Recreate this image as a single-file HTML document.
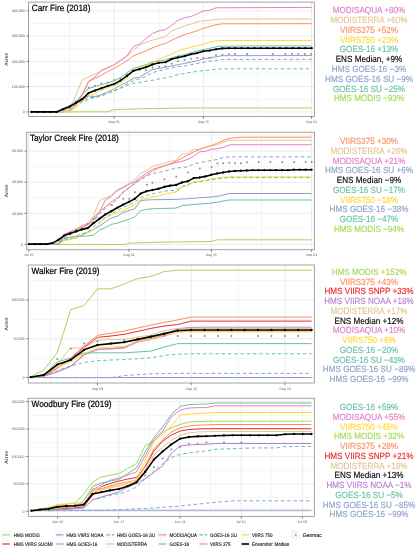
<!DOCTYPE html><html><head><meta charset="utf-8"><style>html,body{margin:0;padding:0;background:#fff;overflow:hidden}svg{display:block;will-change:transform}text{font-family:"Liberation Sans", sans-serif;text-rendering:geometricPrecision}</style></head><body>
<svg width="416" height="550" viewBox="0 0 416 550">
<rect width="416" height="550" fill="#fff"/>
<line x1="28.5" x2="314.4" y1="99.26" y2="99.26" stroke="#EFEFEF" stroke-width="0.6"/><line x1="28.5" x2="314.4" y1="73.99" y2="73.99" stroke="#EFEFEF" stroke-width="0.6"/><line x1="28.5" x2="314.4" y1="48.71" y2="48.71" stroke="#EFEFEF" stroke-width="0.6"/><line x1="28.5" x2="314.4" y1="23.44" y2="23.44" stroke="#EFEFEF" stroke-width="0.6"/><line x1="28.5" x2="314.4" y1="111.90" y2="111.90" stroke="#E6E6E6" stroke-width="0.8"/><line x1="28.5" x2="314.4" y1="86.62" y2="86.62" stroke="#E6E6E6" stroke-width="0.8"/><line x1="28.5" x2="314.4" y1="61.35" y2="61.35" stroke="#E6E6E6" stroke-width="0.8"/><line x1="28.5" x2="314.4" y1="36.08" y2="36.08" stroke="#E6E6E6" stroke-width="0.8"/><line x1="28.5" x2="314.4" y1="10.80" y2="10.80" stroke="#E6E6E6" stroke-width="0.8"/><line x1="69.5" x2="69.5" y1="2.1" y2="116.5" stroke="#EFEFEF" stroke-width="0.6"/><line x1="158.8" x2="158.8" y1="2.1" y2="116.5" stroke="#EFEFEF" stroke-width="0.6"/><line x1="257.5" x2="257.5" y1="2.1" y2="116.5" stroke="#EFEFEF" stroke-width="0.6"/><line x1="114.1" x2="114.1" y1="2.1" y2="116.5" stroke="#E6E6E6" stroke-width="0.8"/><line x1="203.4" x2="203.4" y1="2.1" y2="116.5" stroke="#E6E6E6" stroke-width="0.8"/><line x1="311.5" x2="311.5" y1="2.1" y2="116.5" stroke="#E6E6E6" stroke-width="0.8"/>
<g transform="translate(0,0.3)"><path d="M31.25,111.70 L108.00,111.50 L113.50,109.40 L140.00,108.50 L192.00,107.60 L311.75,107.60" fill="none" stroke="#A6D854" stroke-width="1.0" stroke-linejoin="round" stroke-linecap="butt" opacity="1"/><path d="M31.25,111.60 L56.75,111.60 L63.10,110.00 L69.50,107.50 L75.90,103.50 L80.00,100.00 L88.60,95.60 L95.00,96.25 L101.40,94.40 L107.75,91.25 L114.10,88.75 L120.50,85.00 L126.90,81.90 L133.25,78.10 L139.60,76.90 L146.00,73.10 L152.00,69.40 L159.00,68.10 L165.40,66.90 L171.75,65.60 L178.10,64.40 L184.50,63.10 L190.90,61.90 L197.25,60.30 L203.25,58.75 L209.60,57.50 L216.00,56.50 L222.40,55.40 L311.75,55.25" fill="none" stroke="#8DA0CB" stroke-width="1.0" stroke-linejoin="round" stroke-linecap="butt" opacity="1"/><path d="M31.25,111.60 L56.75,111.60 L63.10,110.50 L69.50,106.50 L73.75,100.00 L82.25,79.40 L88.60,76.60 L95.00,73.70 L101.25,70.60 L107.00,67.80 L114.10,64.60 L120.50,60.60 L126.90,56.00 L133.25,50.00 L139.60,45.00 L146.00,42.00 L152.00,40.00 L159.00,38.10 L165.40,36.25 L171.75,30.60 L178.10,28.10 L184.50,25.60 L190.90,23.75 L197.25,21.50 L203.25,20.60 L209.60,20.00 L216.00,19.00 L222.40,18.75 L311.75,18.75" fill="none" stroke="#E5C494" stroke-width="1.0" stroke-linejoin="round" stroke-linecap="butt" opacity="1"/><path d="M31.25,111.60 L63.10,111.60 L69.50,110.30 L75.90,105.00 L80.00,98.75 L88.60,81.25 L96.25,75.60 L101.25,70.00 L107.75,67.50 L114.10,64.40 L120.50,60.00 L126.90,55.60 L133.25,46.25 L139.60,43.75 L146.00,38.50 L152.60,33.10 L159.00,30.60 L165.40,29.40 L171.75,25.00 L178.00,20.00 L184.50,17.50 L190.90,16.20 L196.90,13.75 L203.25,10.60 L209.60,10.00 L216.00,7.50 L311.75,7.10" fill="none" stroke="#E37FCB" stroke-width="1.0" stroke-linejoin="round" stroke-linecap="butt" opacity="1"/><path d="M31.25,111.60 L56.75,111.60 L63.10,109.50 L69.50,107.00 L75.90,103.00 L80.00,96.25 L88.60,88.10 L95.00,86.25 L101.40,84.40 L107.75,82.50 L114.10,80.60 L120.50,77.20 L126.90,72.50 L133.25,68.10 L139.60,66.25 L146.00,64.40 L152.00,61.90 L159.00,60.60 L165.40,59.40 L171.75,57.50 L178.10,55.60 L184.50,54.40 L190.90,52.50 L197.25,50.60 L203.25,49.40 L209.60,48.10 L216.00,46.50 L222.40,45.80 L311.75,45.60" fill="none" stroke="#66C2A5" stroke-width="1.0" stroke-linejoin="round" stroke-linecap="butt" opacity="1"/><path d="M31.25,111.60 L63.10,111.60 L69.50,110.30 L75.90,105.00 L80.00,98.75 L88.60,81.25 L95.00,78.10 L101.25,75.00 L107.75,71.25 L114.10,68.10 L120.50,64.40 L126.90,60.60 L133.25,55.60 L139.60,53.10 L146.00,50.60 L152.00,47.80 L159.00,45.00 L165.40,43.10 L171.75,40.00 L178.10,36.90 L184.50,34.40 L190.90,32.50 L197.25,30.40 L203.25,28.10 L209.60,26.25 L216.00,24.40 L222.40,23.50 L311.75,23.40" fill="none" stroke="#FC8D62" stroke-width="1.0" stroke-linejoin="round" stroke-linecap="butt" opacity="1"/><path d="M31.25,111.60 L63.10,111.60 L69.50,110.90 L75.90,107.50 L80.00,103.10 L88.60,96.25 L95.00,93.10 L101.40,90.00 L107.75,87.50 L114.10,85.60 L120.50,82.50 L126.90,78.10 L133.25,69.60 L139.60,67.50 L146.00,65.60 L152.40,62.60 L159.00,58.75 L165.40,56.25 L171.75,53.75 L178.10,50.40 L184.50,48.75 L190.90,46.90 L197.25,45.60 L203.25,43.75 L209.60,41.90 L216.00,40.60 L222.40,40.25 L311.75,40.25" fill="none" stroke="#FFD92F" stroke-width="1.0" stroke-linejoin="round" stroke-linecap="butt" opacity="1"/><path d="M31.25,111.60 L56.75,111.60 L63.10,110.30 L69.50,108.00 L75.90,104.50 L80.00,101.00 L88.60,97.00 L95.00,97.30 L101.40,95.60 L107.75,93.00 L114.10,90.60 L120.50,87.50 L126.90,83.75 L133.25,80.50 L139.60,78.50 L146.00,76.20 L152.00,72.50 L159.00,70.60 L165.40,69.00 L171.75,67.50 L178.10,66.25 L184.50,65.60 L190.90,64.40 L197.25,63.10 L203.25,62.00 L209.60,60.90 L216.00,60.00 L222.40,59.10 L311.75,59.00" fill="none" stroke="#8DA0CB" stroke-width="1.0" stroke-linejoin="round" stroke-linecap="butt" stroke-dasharray="3.5,2.75" opacity="1"/><path d="M31.25,111.60 L56.75,111.60 L63.10,110.30 L69.50,108.50 L75.90,105.00 L82.00,101.50 L88.60,99.00 L95.00,97.00 L107.75,93.00 L120.50,88.10 L126.90,85.00 L133.25,83.00 L146.00,81.00 L152.00,80.00 L159.00,78.75 L165.40,77.50 L171.75,76.25 L178.10,74.40 L184.50,73.10 L190.90,71.90 L197.25,71.25 L203.25,70.25 L209.60,69.75 L216.00,69.00 L222.40,68.50 L311.75,68.50" fill="none" stroke="#66C2A5" stroke-width="1.0" stroke-linejoin="round" stroke-linecap="butt" stroke-dasharray="3.5,2.75" opacity="1"/><circle cx="75.90" cy="100.90" r="1.0" fill="#8F8F8F"/><circle cx="88.60" cy="87.80" r="1.0" fill="#8F8F8F"/><circle cx="95.00" cy="85.55" r="1.0" fill="#8F8F8F"/><circle cx="101.40" cy="83.20" r="1.0" fill="#8F8F8F"/><circle cx="107.75" cy="82.20" r="1.0" fill="#8F8F8F"/><circle cx="114.10" cy="79.70" r="1.0" fill="#8F8F8F"/><circle cx="120.50" cy="78.40" r="1.0" fill="#8F8F8F"/><circle cx="126.90" cy="74.30" r="1.0" fill="#8F8F8F"/><circle cx="133.25" cy="70.30" r="1.0" fill="#8F8F8F"/><circle cx="139.60" cy="69.80" r="1.0" fill="#8F8F8F"/><circle cx="146.00" cy="70.05" r="1.0" fill="#8F8F8F"/><circle cx="152.60" cy="67.20" r="1.0" fill="#8F8F8F"/><circle cx="159.00" cy="66.55" r="1.0" fill="#8F8F8F"/><circle cx="165.40" cy="65.90" r="1.0" fill="#8F8F8F"/><circle cx="171.75" cy="63.40" r="1.0" fill="#8F8F8F"/><circle cx="178.10" cy="60.90" r="1.0" fill="#8F8F8F"/><circle cx="184.50" cy="59.70" r="1.0" fill="#8F8F8F"/><circle cx="190.90" cy="58.40" r="1.0" fill="#8F8F8F"/><circle cx="197.25" cy="57.80" r="1.0" fill="#8F8F8F"/><circle cx="203.25" cy="57.80" r="1.0" fill="#8F8F8F"/><circle cx="209.60" cy="57.80" r="1.0" fill="#8F8F8F"/><circle cx="216.00" cy="54.70" r="1.0" fill="#8F8F8F"/><circle cx="222.40" cy="54.70" r="1.0" fill="#8F8F8F"/><circle cx="228.80" cy="54.05" r="1.0" fill="#8F8F8F"/><circle cx="235.00" cy="53.80" r="1.0" fill="#8F8F8F"/><circle cx="247.20" cy="53.70" r="1.0" fill="#8F8F8F"/><circle cx="272.80" cy="53.70" r="1.0" fill="#8F8F8F"/><circle cx="285.40" cy="53.70" r="1.0" fill="#8F8F8F"/><circle cx="292.00" cy="53.70" r="1.0" fill="#8F8F8F"/><circle cx="298.20" cy="53.70" r="1.0" fill="#8F8F8F"/><circle cx="304.80" cy="53.70" r="1.0" fill="#8F8F8F"/><circle cx="311.25" cy="53.70" r="1.0" fill="#8F8F8F"/><path d="M31.25,111.60 L37.62,111.60 L44.00,111.60 L50.38,111.60 L56.75,111.60 L63.10,108.75 L69.50,106.25 L75.90,102.50 L82.25,98.90 L88.60,92.80 L95.00,90.30 L101.40,88.00 L107.75,85.60 L114.10,83.75 L120.50,80.30 L126.90,75.60 L133.25,70.60 L139.60,68.75 L146.00,66.90 L152.40,64.20 L159.00,62.50 L165.40,61.90 L171.75,58.75 L178.10,57.20 L184.50,55.90 L190.90,54.00 L197.25,52.80 L203.25,51.00 L209.60,50.25 L216.00,49.00 L222.40,48.10 L228.80,47.90 L235.25,47.90 L241.62,47.90 L248.00,47.90 L254.38,47.90 L260.75,47.90 L267.12,47.90 L273.50,47.90 L279.88,47.90 L286.25,47.90 L292.62,47.90 L299.00,47.90 L305.38,47.90 L311.75,47.90" fill="none" stroke="#000" stroke-width="1.6" stroke-linejoin="round" stroke-linecap="butt" opacity="1"/><circle cx="31.25" cy="111.60" r="1.15" fill="#000"/><circle cx="37.62" cy="111.60" r="1.15" fill="#000"/><circle cx="44.00" cy="111.60" r="1.15" fill="#000"/><circle cx="50.38" cy="111.60" r="1.15" fill="#000"/><circle cx="56.75" cy="111.60" r="1.15" fill="#000"/><circle cx="63.10" cy="108.75" r="1.15" fill="#000"/><circle cx="69.50" cy="106.25" r="1.15" fill="#000"/><circle cx="75.90" cy="102.50" r="1.15" fill="#000"/><circle cx="82.25" cy="98.90" r="1.15" fill="#000"/><circle cx="88.60" cy="92.80" r="1.15" fill="#000"/><circle cx="95.00" cy="90.30" r="1.15" fill="#000"/><circle cx="101.40" cy="88.00" r="1.15" fill="#000"/><circle cx="107.75" cy="85.60" r="1.15" fill="#000"/><circle cx="114.10" cy="83.75" r="1.15" fill="#000"/><circle cx="120.50" cy="80.30" r="1.15" fill="#000"/><circle cx="126.90" cy="75.60" r="1.15" fill="#000"/><circle cx="133.25" cy="70.60" r="1.15" fill="#000"/><circle cx="139.60" cy="68.75" r="1.15" fill="#000"/><circle cx="146.00" cy="66.90" r="1.15" fill="#000"/><circle cx="152.40" cy="64.20" r="1.15" fill="#000"/><circle cx="159.00" cy="62.50" r="1.15" fill="#000"/><circle cx="165.40" cy="61.90" r="1.15" fill="#000"/><circle cx="171.75" cy="58.75" r="1.15" fill="#000"/><circle cx="178.10" cy="57.20" r="1.15" fill="#000"/><circle cx="184.50" cy="55.90" r="1.15" fill="#000"/><circle cx="190.90" cy="54.00" r="1.15" fill="#000"/><circle cx="197.25" cy="52.80" r="1.15" fill="#000"/><circle cx="203.25" cy="51.00" r="1.15" fill="#000"/><circle cx="209.60" cy="50.25" r="1.15" fill="#000"/><circle cx="216.00" cy="49.00" r="1.15" fill="#000"/><circle cx="222.40" cy="48.10" r="1.15" fill="#000"/><circle cx="228.80" cy="47.90" r="1.15" fill="#000"/><circle cx="235.25" cy="47.90" r="1.15" fill="#000"/><circle cx="241.62" cy="47.90" r="1.15" fill="#000"/><circle cx="248.00" cy="47.90" r="1.15" fill="#000"/><circle cx="254.38" cy="47.90" r="1.15" fill="#000"/><circle cx="260.75" cy="47.90" r="1.15" fill="#000"/><circle cx="267.12" cy="47.90" r="1.15" fill="#000"/><circle cx="273.50" cy="47.90" r="1.15" fill="#000"/><circle cx="279.88" cy="47.90" r="1.15" fill="#000"/><circle cx="286.25" cy="47.90" r="1.15" fill="#000"/><circle cx="292.62" cy="47.90" r="1.15" fill="#000"/><circle cx="299.00" cy="47.90" r="1.15" fill="#000"/><circle cx="305.38" cy="47.90" r="1.15" fill="#000"/><circle cx="311.75" cy="47.90" r="1.15" fill="#000"/></g>
<rect x="28.5" y="2.1" width="285.90" height="114.40" fill="none" stroke="#999" stroke-width="0.9"/>
<line x1="26.3" x2="28.5" y1="111.90" y2="111.90" stroke="#333" stroke-width="0.6"/>
<text transform="translate(24.70,111.90) scale(1,1.0)" y="1.238" font-size="3.6" fill="#555" text-anchor="end">0</text>
<line x1="26.3" x2="28.5" y1="86.62" y2="86.62" stroke="#333" stroke-width="0.6"/>
<text transform="translate(24.70,86.62) scale(1,1.0)" y="1.238" font-size="3.6" fill="#555" text-anchor="end">100,000</text>
<line x1="26.3" x2="28.5" y1="61.35" y2="61.35" stroke="#333" stroke-width="0.6"/>
<text transform="translate(24.70,61.35) scale(1,1.0)" y="1.238" font-size="3.6" fill="#555" text-anchor="end">200,000</text>
<line x1="26.3" x2="28.5" y1="36.08" y2="36.08" stroke="#333" stroke-width="0.6"/>
<text transform="translate(24.70,36.08) scale(1,1.0)" y="1.238" font-size="3.6" fill="#555" text-anchor="end">300,000</text>
<line x1="26.3" x2="28.5" y1="10.80" y2="10.80" stroke="#333" stroke-width="0.6"/>
<text transform="translate(24.70,10.80) scale(1,1.0)" y="1.238" font-size="3.6" fill="#555" text-anchor="end">400,000</text>
<line x1="114.1" x2="114.1" y1="116.5" y2="118.7" stroke="#333" stroke-width="0.6"/>
<text transform="translate(114.10,121.90) scale(1,1.0)" y="1.238" font-size="3.6" fill="#666" text-anchor="middle">Aug 01</text>
<line x1="203.4" x2="203.4" y1="116.5" y2="118.7" stroke="#333" stroke-width="0.6"/>
<text transform="translate(203.40,121.90) scale(1,1.0)" y="1.238" font-size="3.6" fill="#666" text-anchor="middle">Aug 15</text>
<line x1="311.5" x2="311.5" y1="116.5" y2="118.7" stroke="#333" stroke-width="0.6"/>
<text transform="translate(311.50,121.90) scale(1,1.0)" y="1.238" font-size="3.6" fill="#666" text-anchor="middle">Sep 01</text>
<text transform="translate(6.3,59.30) rotate(-90)" y="1.72" font-size="5.0" fill="#222" text-anchor="middle">Acres</text>
<text transform="translate(31.70,7.55) scale(1,1.1)" y="2.838" font-size="8.25" fill="#000" stroke="#000" stroke-width="0.2">Carr Fire (2018)</text>
<text transform="translate(369.00,10.05) scale(1,1.1)" y="2.804" font-size="8.15" fill="#E27ACA" stroke="#E27ACA" stroke-width="0.12" text-anchor="middle">MODISAQUA +80%</text>
<text transform="translate(369.00,19.86) scale(1,1.1)" y="2.804" font-size="8.15" fill="#E5C494" stroke="#E5C494" stroke-width="0.12" text-anchor="middle">MODISTERRA +60%</text>
<text transform="translate(369.00,29.66) scale(1,1.1)" y="2.804" font-size="8.15" fill="#FC8D62" stroke="#FC8D62" stroke-width="0.12" text-anchor="middle">VIIRS375 +52%</text>
<text transform="translate(369.00,39.47) scale(1,1.1)" y="2.804" font-size="8.15" fill="#FFD92F" stroke="#FFD92F" stroke-width="0.12" text-anchor="middle">VIIRS750 +23%</text>
<text transform="translate(369.00,49.27) scale(1,1.1)" y="2.804" font-size="8.15" fill="#66C2A5" stroke="#66C2A5" stroke-width="0.12" text-anchor="middle">GOES-16 +13%</text>
<text transform="translate(369.00,59.08) scale(1,1.1)" y="2.804" font-size="8.15" fill="#000000" stroke="#000000" stroke-width="0.12" text-anchor="middle">ENS Median, +9%</text>
<text transform="translate(369.00,68.88) scale(1,1.1)" y="2.804" font-size="8.15" fill="#8DA0CB" stroke="#8DA0CB" stroke-width="0.12" text-anchor="middle">HMS GOES-16 −3%</text>
<text transform="translate(369.00,78.68) scale(1,1.1)" y="2.804" font-size="8.15" fill="#8DA0CB" stroke="#8DA0CB" stroke-width="0.12" text-anchor="middle">HMS GOES-16 SU −9%</text>
<text transform="translate(369.00,88.49) scale(1,1.1)" y="2.804" font-size="8.15" fill="#66C2A5" stroke="#66C2A5" stroke-width="0.12" text-anchor="middle">GOES-16 SU −25%</text>
<text transform="translate(369.00,98.30) scale(1,1.1)" y="2.804" font-size="8.15" fill="#A6D854" stroke="#A6D854" stroke-width="0.12" text-anchor="middle">HMS MODIS −93%</text>
<line x1="26.7" x2="314.4" y1="228.85" y2="228.85" stroke="#EFEFEF" stroke-width="0.6"/><line x1="26.7" x2="314.4" y1="197.75" y2="197.75" stroke="#EFEFEF" stroke-width="0.6"/><line x1="26.7" x2="314.4" y1="166.65" y2="166.65" stroke="#EFEFEF" stroke-width="0.6"/><line x1="26.7" x2="314.4" y1="135.55" y2="135.55" stroke="#EFEFEF" stroke-width="0.6"/><line x1="26.7" x2="314.4" y1="244.40" y2="244.40" stroke="#E6E6E6" stroke-width="0.8"/><line x1="26.7" x2="314.4" y1="213.30" y2="213.30" stroke="#E6E6E6" stroke-width="0.8"/><line x1="26.7" x2="314.4" y1="182.20" y2="182.20" stroke="#E6E6E6" stroke-width="0.8"/><line x1="26.7" x2="314.4" y1="151.10" y2="151.10" stroke="#E6E6E6" stroke-width="0.8"/><line x1="79" x2="79" y1="132.2" y2="249.7" stroke="#EFEFEF" stroke-width="0.6"/><line x1="170" x2="170" y1="132.2" y2="249.7" stroke="#EFEFEF" stroke-width="0.6"/><line x1="261.5" x2="261.5" y1="132.2" y2="249.7" stroke="#EFEFEF" stroke-width="0.6"/><line x1="28.8" x2="28.8" y1="132.2" y2="249.7" stroke="#E6E6E6" stroke-width="0.8"/><line x1="129.0" x2="129.0" y1="132.2" y2="249.7" stroke="#E6E6E6" stroke-width="0.8"/><line x1="211.4" x2="211.4" y1="132.2" y2="249.7" stroke="#E6E6E6" stroke-width="0.8"/><line x1="311.6" x2="311.6" y1="132.2" y2="249.7" stroke="#E6E6E6" stroke-width="0.8"/>
<path d="M28.80,244.40 L123.60,244.50 L129.60,243.20 L157.20,242.20 L211.00,241.50 L217.80,239.80 L311.52,239.80" fill="none" stroke="#A6D854" stroke-width="1.0" stroke-linejoin="round" stroke-linecap="butt" opacity="1"/><path d="M28.80,244.10 L58.25,244.10 L64.14,240.00 L75.92,238.00 L87.70,232.50 L99.48,226.25 L105.37,221.90 L111.26,218.10 L117.15,216.25 L123.04,212.50 L128.93,210.60 L134.82,208.75 L140.71,200.60 L146.60,200.00 L152.49,199.75 L176.05,199.40 L187.83,198.75 L199.61,197.75 L211.39,197.00 L217.28,196.25 L223.17,195.00 L229.06,193.50 L311.52,193.50" fill="none" stroke="#8DA0CB" stroke-width="1.0" stroke-linejoin="round" stroke-linecap="butt" opacity="1"/><path d="M28.80,244.10 L58.25,244.10 L64.14,236.00 L75.92,231.00 L87.70,225.00 L93.59,215.60 L99.48,200.60 L105.37,198.10 L111.26,195.25 L117.15,190.00 L123.04,186.75 L128.93,183.10 L134.82,179.40 L140.71,173.30 L146.60,170.60 L152.49,166.25 L158.38,165.00 L164.27,163.10 L170.16,161.25 L176.05,160.60 L181.94,153.75 L187.83,153.75 L193.72,149.40 L199.61,149.40 L205.50,146.90 L211.39,145.50 L217.28,144.80 L223.17,142.50 L229.06,140.25 L311.52,140.25" fill="none" stroke="#E5C494" stroke-width="1.0" stroke-linejoin="round" stroke-linecap="butt" opacity="1"/><path d="M28.80,244.10 L58.25,244.10 L64.14,234.40 L75.92,229.40 L87.70,225.00 L93.59,220.00 L99.48,212.00 L105.37,200.00 L111.26,196.50 L117.15,190.50 L123.04,188.00 L128.93,184.50 L134.82,181.90 L140.71,176.90 L146.60,173.10 L152.49,169.40 L158.38,167.50 L164.27,165.60 L170.16,164.40 L176.05,162.50 L181.94,161.25 L187.83,159.40 L193.72,156.25 L199.61,151.90 L205.50,151.25 L211.39,149.40 L217.28,148.75 L223.17,147.50 L229.06,145.00 L234.95,144.75 L311.52,144.75" fill="none" stroke="#E37FCB" stroke-width="1.0" stroke-linejoin="round" stroke-linecap="butt" opacity="1"/><path d="M28.80,244.10 L58.25,244.10 L64.14,238.00 L75.92,236.50 L87.70,236.00 L93.59,235.00 L99.48,230.00 L105.37,227.50 L111.26,224.40 L117.15,223.10 L123.04,221.25 L128.93,219.40 L134.82,216.90 L140.71,210.60 L146.60,209.40 L152.49,208.75 L176.05,208.10 L181.94,205.60 L193.72,204.40 L211.39,203.10 L217.28,202.25 L223.17,201.00 L229.06,200.00 L311.52,200.00" fill="none" stroke="#66C2A5" stroke-width="1.0" stroke-linejoin="round" stroke-linecap="butt" opacity="1"/><path d="M28.80,244.10 L58.25,244.10 L64.14,234.40 L75.92,229.40 L81.81,225.60 L87.70,223.75 L93.59,217.50 L99.48,211.90 L105.37,206.90 L111.26,201.90 L117.15,198.10 L123.04,192.50 L128.93,188.00 L134.82,183.10 L140.71,178.75 L146.60,175.00 L152.49,171.25 L158.38,168.10 L164.27,166.00 L170.16,163.75 L176.05,161.25 L181.94,158.10 L187.83,155.00 L193.72,151.90 L199.61,149.40 L205.50,147.50 L211.39,145.60 L217.28,143.10 L223.17,140.60 L229.06,138.50 L234.95,137.75 L240.84,137.20 L311.52,137.20" fill="none" stroke="#FC8D62" stroke-width="1.0" stroke-linejoin="round" stroke-linecap="butt" opacity="1"/><path d="M28.80,244.10 L52.36,244.10 L58.25,243.00 L64.14,240.60 L70.03,239.40 L75.92,238.10 L81.81,234.40 L87.70,232.00 L93.59,230.00 L99.48,224.00 L105.37,218.10 L111.26,215.00 L117.15,212.50 L123.04,210.60 L128.93,207.50 L134.82,204.40 L140.71,199.40 L146.60,198.10 L152.49,196.90 L158.38,196.00 L164.27,194.20 L170.16,193.10 L176.05,191.90 L181.94,187.50 L187.83,185.60 L193.72,181.90 L199.61,181.25 L205.50,180.60 L211.39,178.75 L217.28,178.10 L223.17,177.50 L229.06,176.90 L311.52,176.90" fill="none" stroke="#FFD92F" stroke-width="1.0" stroke-linejoin="round" stroke-linecap="butt" opacity="1"/><path d="M28.80,244.10 L58.25,244.10 L64.14,238.00 L75.92,232.00 L87.70,228.00 L99.48,214.00 L105.37,208.00 L111.26,203.75 L117.15,200.00 L123.04,192.00 L128.93,187.50 L134.82,183.80 L140.71,179.50 L146.60,176.00 L152.49,173.75 L158.38,172.50 L164.27,171.25 L170.16,169.40 L176.05,168.10 L181.94,167.50 L187.83,166.90 L193.72,163.75 L199.61,163.00 L205.50,161.25 L211.39,160.60 L217.28,159.40 L223.17,157.50 L229.06,156.90 L311.52,156.90" fill="none" stroke="#8DA0CB" stroke-width="1.0" stroke-linejoin="round" stroke-linecap="butt" stroke-dasharray="3.5,2.75" opacity="1"/><path d="M28.80,244.10 L58.25,244.10 L64.14,239.00 L75.92,236.00 L87.70,232.00 L99.48,222.00 L105.37,216.90 L111.26,213.75 L117.15,210.60 L123.04,207.50 L128.93,205.00 L134.82,201.90 L140.71,197.50 L146.60,195.60 L152.49,193.75 L158.38,192.50 L164.27,191.25 L170.16,190.60 L176.05,190.60 L181.94,186.25 L187.83,184.40 L193.72,182.50 L199.61,181.90 L205.50,180.60 L211.39,179.75 L217.28,178.75 L223.17,178.10 L229.06,177.60 L311.52,177.60" fill="none" stroke="#66C2A5" stroke-width="1.0" stroke-linejoin="round" stroke-linecap="butt" stroke-dasharray="3.5,2.75" opacity="1"/><circle cx="76.25" cy="229.70" r="1.0" fill="#8F8F8F"/><circle cx="87.50" cy="224.05" r="1.0" fill="#8F8F8F"/><circle cx="93.75" cy="219.05" r="1.0" fill="#8F8F8F"/><circle cx="111.90" cy="205.10" r="1.0" fill="#8F8F8F"/><circle cx="123.20" cy="198.80" r="1.0" fill="#8F8F8F"/><circle cx="129.20" cy="198.80" r="1.0" fill="#8F8F8F"/><circle cx="134.90" cy="192.30" r="1.0" fill="#8F8F8F"/><circle cx="146.90" cy="184.70" r="1.0" fill="#8F8F8F"/><circle cx="152.50" cy="182.80" r="1.0" fill="#8F8F8F"/><circle cx="164.50" cy="179.20" r="1.0" fill="#8F8F8F"/><circle cx="176.25" cy="176.80" r="1.0" fill="#8F8F8F"/><circle cx="188.10" cy="172.55" r="1.0" fill="#8F8F8F"/><circle cx="199.75" cy="168.40" r="1.0" fill="#8F8F8F"/><circle cx="211.60" cy="167.20" r="1.0" fill="#8F8F8F"/><circle cx="217.50" cy="163.40" r="1.0" fill="#8F8F8F"/><circle cx="223.20" cy="163.30" r="1.0" fill="#8F8F8F"/><circle cx="229.40" cy="162.80" r="1.0" fill="#8F8F8F"/><circle cx="235.00" cy="163.30" r="1.0" fill="#8F8F8F"/><circle cx="240.90" cy="163.30" r="1.0" fill="#8F8F8F"/><circle cx="246.90" cy="162.20" r="1.0" fill="#8F8F8F"/><circle cx="258.70" cy="162.10" r="1.0" fill="#8F8F8F"/><circle cx="270.30" cy="162.10" r="1.0" fill="#8F8F8F"/><circle cx="282.20" cy="162.10" r="1.0" fill="#8F8F8F"/><circle cx="294.10" cy="162.10" r="1.0" fill="#8F8F8F"/><circle cx="305.60" cy="162.10" r="1.0" fill="#8F8F8F"/><circle cx="311.60" cy="162.10" r="1.0" fill="#8F8F8F"/><path d="M28.80,244.10 L34.69,244.10 L40.58,244.10 L46.47,244.10 L52.36,243.10 L58.25,240.00 L64.14,235.60 L70.03,233.40 L75.92,231.50 L81.81,229.40 L87.70,228.10 L93.59,223.10 L99.48,218.75 L105.37,214.40 L111.26,211.25 L117.15,207.80 L123.04,204.70 L128.93,201.90 L134.82,198.75 L140.71,193.60 L146.60,191.25 L152.49,190.00 L158.38,188.75 L164.27,186.90 L170.16,185.60 L176.05,185.00 L181.94,182.50 L187.83,181.25 L193.72,178.10 L199.61,177.50 L205.50,176.40 L211.39,174.75 L217.28,173.50 L223.17,172.50 L229.06,171.50 L234.95,171.00 L240.84,170.70 L246.73,170.50 L252.62,170.20 L258.51,170.20 L264.40,170.20 L270.29,170.20 L276.18,170.20 L282.07,170.20 L287.96,170.20 L293.85,169.70 L299.74,169.70 L305.63,169.70 L311.52,169.70" fill="none" stroke="#000" stroke-width="1.6" stroke-linejoin="round" stroke-linecap="butt" opacity="1"/><circle cx="28.80" cy="244.10" r="1.15" fill="#000"/><circle cx="34.69" cy="244.10" r="1.15" fill="#000"/><circle cx="40.58" cy="244.10" r="1.15" fill="#000"/><circle cx="46.47" cy="244.10" r="1.15" fill="#000"/><circle cx="52.36" cy="243.10" r="1.15" fill="#000"/><circle cx="58.25" cy="240.00" r="1.15" fill="#000"/><circle cx="64.14" cy="235.60" r="1.15" fill="#000"/><circle cx="70.03" cy="233.40" r="1.15" fill="#000"/><circle cx="75.92" cy="231.50" r="1.15" fill="#000"/><circle cx="81.81" cy="229.40" r="1.15" fill="#000"/><circle cx="87.70" cy="228.10" r="1.15" fill="#000"/><circle cx="93.59" cy="223.10" r="1.15" fill="#000"/><circle cx="99.48" cy="218.75" r="1.15" fill="#000"/><circle cx="105.37" cy="214.40" r="1.15" fill="#000"/><circle cx="111.26" cy="211.25" r="1.15" fill="#000"/><circle cx="117.15" cy="207.80" r="1.15" fill="#000"/><circle cx="123.04" cy="204.70" r="1.15" fill="#000"/><circle cx="128.93" cy="201.90" r="1.15" fill="#000"/><circle cx="134.82" cy="198.75" r="1.15" fill="#000"/><circle cx="140.71" cy="193.60" r="1.15" fill="#000"/><circle cx="146.60" cy="191.25" r="1.15" fill="#000"/><circle cx="152.49" cy="190.00" r="1.15" fill="#000"/><circle cx="158.38" cy="188.75" r="1.15" fill="#000"/><circle cx="164.27" cy="186.90" r="1.15" fill="#000"/><circle cx="170.16" cy="185.60" r="1.15" fill="#000"/><circle cx="176.05" cy="185.00" r="1.15" fill="#000"/><circle cx="181.94" cy="182.50" r="1.15" fill="#000"/><circle cx="187.83" cy="181.25" r="1.15" fill="#000"/><circle cx="193.72" cy="178.10" r="1.15" fill="#000"/><circle cx="199.61" cy="177.50" r="1.15" fill="#000"/><circle cx="205.50" cy="176.40" r="1.15" fill="#000"/><circle cx="211.39" cy="174.75" r="1.15" fill="#000"/><circle cx="217.28" cy="173.50" r="1.15" fill="#000"/><circle cx="223.17" cy="172.50" r="1.15" fill="#000"/><circle cx="229.06" cy="171.50" r="1.15" fill="#000"/><circle cx="234.95" cy="171.00" r="1.15" fill="#000"/><circle cx="240.84" cy="170.70" r="1.15" fill="#000"/><circle cx="246.73" cy="170.50" r="1.15" fill="#000"/><circle cx="252.62" cy="170.20" r="1.15" fill="#000"/><circle cx="258.51" cy="170.20" r="1.15" fill="#000"/><circle cx="264.40" cy="170.20" r="1.15" fill="#000"/><circle cx="270.29" cy="170.20" r="1.15" fill="#000"/><circle cx="276.18" cy="170.20" r="1.15" fill="#000"/><circle cx="282.07" cy="170.20" r="1.15" fill="#000"/><circle cx="287.96" cy="170.20" r="1.15" fill="#000"/><circle cx="293.85" cy="169.70" r="1.15" fill="#000"/><circle cx="299.74" cy="169.70" r="1.15" fill="#000"/><circle cx="305.63" cy="169.70" r="1.15" fill="#000"/><circle cx="311.52" cy="169.70" r="1.15" fill="#000"/>
<rect x="26.7" y="132.2" width="287.70" height="117.50" fill="none" stroke="#999" stroke-width="0.9"/>
<line x1="24.5" x2="26.7" y1="244.40" y2="244.40" stroke="#333" stroke-width="0.6"/>
<text transform="translate(22.90,244.40) scale(1,1.0)" y="1.238" font-size="3.6" fill="#555" text-anchor="end">0</text>
<line x1="24.5" x2="26.7" y1="213.30" y2="213.30" stroke="#333" stroke-width="0.6"/>
<text transform="translate(22.90,213.30) scale(1,1.0)" y="1.238" font-size="3.6" fill="#555" text-anchor="end">20,000</text>
<line x1="24.5" x2="26.7" y1="182.20" y2="182.20" stroke="#333" stroke-width="0.6"/>
<text transform="translate(22.90,182.20) scale(1,1.0)" y="1.238" font-size="3.6" fill="#555" text-anchor="end">40,000</text>
<line x1="24.5" x2="26.7" y1="151.10" y2="151.10" stroke="#333" stroke-width="0.6"/>
<text transform="translate(22.90,151.10) scale(1,1.0)" y="1.238" font-size="3.6" fill="#555" text-anchor="end">60,000</text>
<line x1="28.8" x2="28.8" y1="249.7" y2="251.89999999999998" stroke="#333" stroke-width="0.6"/>
<text transform="translate(28.80,255.10) scale(1,1.0)" y="1.238" font-size="3.6" fill="#666" text-anchor="middle">Jul 15</text>
<line x1="129.0" x2="129.0" y1="249.7" y2="251.89999999999998" stroke="#333" stroke-width="0.6"/>
<text transform="translate(129.00,255.10) scale(1,1.0)" y="1.238" font-size="3.6" fill="#666" text-anchor="middle">Aug 01</text>
<line x1="211.4" x2="211.4" y1="249.7" y2="251.89999999999998" stroke="#333" stroke-width="0.6"/>
<text transform="translate(211.40,255.10) scale(1,1.0)" y="1.238" font-size="3.6" fill="#666" text-anchor="middle">Aug 15</text>
<line x1="311.6" x2="311.6" y1="249.7" y2="251.89999999999998" stroke="#333" stroke-width="0.6"/>
<text transform="translate(311.60,255.10) scale(1,1.0)" y="1.238" font-size="3.6" fill="#666" text-anchor="middle">Sep 01</text>
<text transform="translate(6.3,190.95) rotate(-90)" y="1.72" font-size="5.0" fill="#222" text-anchor="middle">Acres</text>
<text transform="translate(29.90,137.65) scale(1,1.1)" y="2.838" font-size="8.25" fill="#000" stroke="#000" stroke-width="0.2">Taylor Creek Fire (2018)</text>
<text transform="translate(369.00,141.25) scale(1,1.1)" y="2.804" font-size="8.15" fill="#FC8D62" stroke="#FC8D62" stroke-width="0.12" text-anchor="middle">VIIRS375 +30%</text>
<text transform="translate(369.00,150.97) scale(1,1.1)" y="2.804" font-size="8.15" fill="#E5C494" stroke="#E5C494" stroke-width="0.12" text-anchor="middle">MODISTERRA +26%</text>
<text transform="translate(369.00,160.68) scale(1,1.1)" y="2.804" font-size="8.15" fill="#E27ACA" stroke="#E27ACA" stroke-width="0.12" text-anchor="middle">MODISAQUA +21%</text>
<text transform="translate(369.00,170.40) scale(1,1.1)" y="2.804" font-size="8.15" fill="#8DA0CB" stroke="#8DA0CB" stroke-width="0.12" text-anchor="middle">HMS GOES-16 SU +6%</text>
<text transform="translate(369.00,180.12) scale(1,1.1)" y="2.804" font-size="8.15" fill="#000000" stroke="#000000" stroke-width="0.12" text-anchor="middle">ENS Median −9%</text>
<text transform="translate(369.00,189.84) scale(1,1.1)" y="2.804" font-size="8.15" fill="#66C2A5" stroke="#66C2A5" stroke-width="0.12" text-anchor="middle">GOES-16 SU −17%</text>
<text transform="translate(369.00,199.55) scale(1,1.1)" y="2.804" font-size="8.15" fill="#FFD92F" stroke="#FFD92F" stroke-width="0.12" text-anchor="middle">VIIRS750 −18%</text>
<text transform="translate(369.00,209.27) scale(1,1.1)" y="2.804" font-size="8.15" fill="#8DA0CB" stroke="#8DA0CB" stroke-width="0.12" text-anchor="middle">HMS GOES-16 −38%</text>
<text transform="translate(369.00,218.99) scale(1,1.1)" y="2.804" font-size="8.15" fill="#66C2A5" stroke="#66C2A5" stroke-width="0.12" text-anchor="middle">GOES-16 −47%</text>
<text transform="translate(369.00,228.70) scale(1,1.1)" y="2.804" font-size="8.15" fill="#A6D854" stroke="#A6D854" stroke-width="0.12" text-anchor="middle">HMS MODIS −94%</text>
<line x1="28.3" x2="314.4" y1="358.12" y2="358.12" stroke="#EFEFEF" stroke-width="0.6"/><line x1="28.3" x2="314.4" y1="319.38" y2="319.38" stroke="#EFEFEF" stroke-width="0.6"/><line x1="28.3" x2="314.4" y1="280.62" y2="280.62" stroke="#EFEFEF" stroke-width="0.6"/><line x1="28.3" x2="314.4" y1="377.50" y2="377.50" stroke="#E6E6E6" stroke-width="0.8"/><line x1="28.3" x2="314.4" y1="338.75" y2="338.75" stroke="#E6E6E6" stroke-width="0.8"/><line x1="28.3" x2="314.4" y1="300.00" y2="300.00" stroke="#E6E6E6" stroke-width="0.8"/><line x1="50.6" x2="50.6" y1="265.0" y2="383.0" stroke="#EFEFEF" stroke-width="0.6"/><line x1="144.4" x2="144.4" y1="265.0" y2="383.0" stroke="#EFEFEF" stroke-width="0.6"/><line x1="238.1" x2="238.1" y1="265.0" y2="383.0" stroke="#EFEFEF" stroke-width="0.6"/><line x1="97.5" x2="97.5" y1="265.0" y2="383.0" stroke="#E6E6E6" stroke-width="0.8"/><line x1="191.25" x2="191.25" y1="265.0" y2="383.0" stroke="#E6E6E6" stroke-width="0.8"/><line x1="285.0" x2="285.0" y1="265.0" y2="383.0" stroke="#E6E6E6" stroke-width="0.8"/>
<path d="M30.60,376.50 L43.98,370.00 L57.36,352.30 L70.74,309.60 L84.12,305.50 L97.50,288.80 L110.88,288.80 L124.26,284.00 L137.64,278.50 L151.02,276.50 L164.40,271.50 L177.78,270.20 L311.58,270.20" fill="none" stroke="#A6D854" stroke-width="1.0" stroke-linejoin="round" stroke-linecap="butt" opacity="1"/><path d="M30.60,377.20 L43.98,376.00 L57.36,368.00 L70.74,358.50 L84.12,347.30 L97.50,337.40 L110.88,336.00 L124.26,334.30 L137.64,331.40 L151.02,328.40 L164.40,326.00 L177.78,324.50 L191.16,321.10 L311.58,321.10" fill="none" stroke="#E42D33" stroke-width="1.0" stroke-linejoin="round" stroke-linecap="butt" opacity="1"/><path d="M30.60,377.20 L43.98,376.10 L57.36,371.80 L70.74,366.00 L84.12,354.50 L97.50,349.40 L110.88,348.50 L124.26,347.30 L137.64,341.00 L151.02,338.50 L164.40,335.00 L177.78,328.60 L191.16,327.40 L204.54,327.20 L311.58,327.20" fill="none" stroke="#B57FD6" stroke-width="1.0" stroke-linejoin="round" stroke-linecap="butt" opacity="1"/><path d="M30.60,377.50 L311.58,377.50" fill="none" stroke="#8DA0CB" stroke-width="1.0" stroke-linejoin="round" stroke-linecap="butt" opacity="1"/><path d="M30.60,377.20 L43.98,376.00 L57.36,364.00 L70.74,348.00 L84.12,348.00 L97.50,340.20 L110.88,339.40 L124.26,339.40 L137.64,336.90 L151.02,335.10 L164.40,330.60 L177.78,328.40 L191.16,328.40 L311.58,328.40" fill="none" stroke="#E5C494" stroke-width="1.0" stroke-linejoin="round" stroke-linecap="butt" opacity="1"/><path d="M30.60,377.20 L43.98,376.00 L57.36,372.00 L70.74,366.50 L84.12,355.00 L97.50,349.50 L110.88,349.00 L124.26,348.00 L137.64,342.00 L151.02,339.40 L164.40,336.00 L177.78,332.00 L191.16,331.00 L311.58,331.00" fill="none" stroke="#E37FCB" stroke-width="1.0" stroke-linejoin="round" stroke-linecap="butt" opacity="1"/><path d="M30.60,377.20 L43.98,374.50 L57.36,361.80 L70.74,358.00 L84.12,353.00 L97.50,352.80 L110.88,352.80 L124.26,352.80 L137.64,352.00 L151.02,351.10 L164.40,347.00 L177.78,343.60 L311.58,343.60" fill="none" stroke="#66C2A5" stroke-width="1.0" stroke-linejoin="round" stroke-linecap="butt" opacity="1"/><path d="M30.60,377.20 L43.98,376.00 L57.36,368.00 L70.74,358.00 L84.12,345.80 L97.50,335.40 L110.88,333.20 L124.26,331.00 L137.64,328.00 L151.02,325.00 L164.40,322.40 L177.78,319.80 L191.16,317.10 L311.58,317.10" fill="none" stroke="#FC8D62" stroke-width="1.0" stroke-linejoin="round" stroke-linecap="butt" opacity="1"/><path d="M30.60,377.20 L43.98,375.50 L57.36,366.70 L70.74,362.00 L84.12,353.70 L97.50,348.00 L110.88,347.00 L124.26,346.60 L137.64,341.00 L151.02,339.40 L164.40,335.20 L177.78,331.90 L191.16,331.80 L311.58,331.80" fill="none" stroke="#FFD92F" stroke-width="1.0" stroke-linejoin="round" stroke-linecap="butt" opacity="1"/><path d="M30.60,377.70 L110.88,377.70 L124.26,375.50 L137.64,374.70 L151.02,373.80 L164.40,373.50 L177.78,373.40 L311.58,373.40" fill="none" stroke="#8DA0CB" stroke-width="1.0" stroke-linejoin="round" stroke-linecap="butt" stroke-dasharray="3.5,2.75" opacity="1"/><path d="M30.60,377.20 L43.98,375.30 L57.36,370.50 L70.74,366.00 L84.12,362.50 L97.50,360.70 L110.88,360.00 L124.26,359.50 L137.64,358.70 L151.02,357.70 L164.40,355.50 L177.78,354.10 L191.16,353.80 L311.58,353.80" fill="none" stroke="#66C2A5" stroke-width="1.0" stroke-linejoin="round" stroke-linecap="butt" stroke-dasharray="3.5,2.75" opacity="1"/><circle cx="57.40" cy="359.10" r="1.0" fill="#8F8F8F"/><circle cx="70.70" cy="348.60" r="1.0" fill="#8F8F8F"/><circle cx="84.10" cy="343.50" r="1.0" fill="#8F8F8F"/><circle cx="97.50" cy="341.30" r="1.0" fill="#8F8F8F"/><circle cx="124.30" cy="340.20" r="1.0" fill="#8F8F8F"/><circle cx="137.60" cy="338.80" r="1.0" fill="#8F8F8F"/><circle cx="151.00" cy="336.60" r="1.0" fill="#8F8F8F"/><circle cx="164.40" cy="335.80" r="1.0" fill="#8F8F8F"/><circle cx="177.78" cy="335.90" r="1.0" fill="#8F8F8F"/><circle cx="191.16" cy="335.90" r="1.0" fill="#8F8F8F"/><circle cx="204.54" cy="335.90" r="1.0" fill="#8F8F8F"/><circle cx="217.92" cy="335.90" r="1.0" fill="#8F8F8F"/><circle cx="231.30" cy="335.90" r="1.0" fill="#8F8F8F"/><circle cx="258.06" cy="335.90" r="1.0" fill="#8F8F8F"/><circle cx="271.44" cy="335.90" r="1.0" fill="#8F8F8F"/><circle cx="284.82" cy="335.90" r="1.0" fill="#8F8F8F"/><circle cx="298.20" cy="335.90" r="1.0" fill="#8F8F8F"/><path d="M30.60,377.20 L43.98,374.90 L57.36,364.60 L70.74,359.90 L84.12,349.80 L97.50,345.00 L110.88,343.60 L124.26,342.20 L137.64,339.40 L151.02,336.60 L164.40,333.60 L177.78,330.50 L191.16,330.00 L204.54,330.00 L217.92,330.00 L231.30,330.00 L244.68,330.00 L258.06,330.00 L271.44,330.00 L284.82,330.00 L298.20,330.00 L311.58,330.00" fill="none" stroke="#000" stroke-width="1.6" stroke-linejoin="round" stroke-linecap="butt" opacity="1"/><circle cx="30.60" cy="377.20" r="1.15" fill="#000"/><circle cx="43.98" cy="374.90" r="1.15" fill="#000"/><circle cx="57.36" cy="364.60" r="1.15" fill="#000"/><circle cx="70.74" cy="359.90" r="1.15" fill="#000"/><circle cx="84.12" cy="349.80" r="1.15" fill="#000"/><circle cx="97.50" cy="345.00" r="1.15" fill="#000"/><circle cx="110.88" cy="343.60" r="1.15" fill="#000"/><circle cx="124.26" cy="342.20" r="1.15" fill="#000"/><circle cx="137.64" cy="339.40" r="1.15" fill="#000"/><circle cx="151.02" cy="336.60" r="1.15" fill="#000"/><circle cx="164.40" cy="333.60" r="1.15" fill="#000"/><circle cx="177.78" cy="330.50" r="1.15" fill="#000"/><circle cx="191.16" cy="330.00" r="1.15" fill="#000"/><circle cx="204.54" cy="330.00" r="1.15" fill="#000"/><circle cx="217.92" cy="330.00" r="1.15" fill="#000"/><circle cx="231.30" cy="330.00" r="1.15" fill="#000"/><circle cx="244.68" cy="330.00" r="1.15" fill="#000"/><circle cx="258.06" cy="330.00" r="1.15" fill="#000"/><circle cx="271.44" cy="330.00" r="1.15" fill="#000"/><circle cx="284.82" cy="330.00" r="1.15" fill="#000"/><circle cx="298.20" cy="330.00" r="1.15" fill="#000"/><circle cx="311.58" cy="330.00" r="1.15" fill="#000"/>
<rect x="28.3" y="265.0" width="286.10" height="118.00" fill="none" stroke="#999" stroke-width="0.9"/>
<line x1="26.1" x2="28.3" y1="377.50" y2="377.50" stroke="#333" stroke-width="0.6"/>
<text transform="translate(24.50,377.50) scale(1,1.0)" y="1.238" font-size="3.6" fill="#555" text-anchor="end">0</text>
<line x1="26.1" x2="28.3" y1="338.75" y2="338.75" stroke="#333" stroke-width="0.6"/>
<text transform="translate(24.50,338.75) scale(1,1.0)" y="1.238" font-size="3.6" fill="#555" text-anchor="end">50,000</text>
<line x1="26.1" x2="28.3" y1="300.00" y2="300.00" stroke="#333" stroke-width="0.6"/>
<text transform="translate(24.50,300.00) scale(1,1.0)" y="1.238" font-size="3.6" fill="#555" text-anchor="end">100,000</text>
<line x1="97.5" x2="97.5" y1="383.0" y2="385.2" stroke="#333" stroke-width="0.6"/>
<text transform="translate(97.50,388.40) scale(1,1.0)" y="1.238" font-size="3.6" fill="#666" text-anchor="middle">Sep 09</text>
<line x1="191.25" x2="191.25" y1="383.0" y2="385.2" stroke="#333" stroke-width="0.6"/>
<text transform="translate(191.25,388.40) scale(1,1.0)" y="1.238" font-size="3.6" fill="#666" text-anchor="middle">Sep 16</text>
<line x1="285.0" x2="285.0" y1="383.0" y2="385.2" stroke="#333" stroke-width="0.6"/>
<text transform="translate(285.00,388.40) scale(1,1.0)" y="1.238" font-size="3.6" fill="#666" text-anchor="middle">Sep 23</text>
<text transform="translate(6.3,324.00) rotate(-90)" y="1.72" font-size="5.0" fill="#222" text-anchor="middle">Acres</text>
<text transform="translate(31.50,270.45) scale(1,1.1)" y="2.838" font-size="8.25" fill="#000" stroke="#000" stroke-width="0.2">Walker Fire (2019)</text>
<text transform="translate(369.00,271.85) scale(1,1.1)" y="2.804" font-size="8.15" fill="#A6D854" stroke="#A6D854" stroke-width="0.12" text-anchor="middle">HMS MODIS +152%</text>
<text transform="translate(369.00,281.60) scale(1,1.1)" y="2.804" font-size="8.15" fill="#FC8D62" stroke="#FC8D62" stroke-width="0.12" text-anchor="middle">VIIRS375 +43%</text>
<text transform="translate(369.00,291.35) scale(1,1.1)" y="2.804" font-size="8.15" fill="#E8242B" stroke="#E8242B" stroke-width="0.12" text-anchor="middle">HMS VIIRS SNPP +33%</text>
<text transform="translate(369.00,301.10) scale(1,1.1)" y="2.804" font-size="8.15" fill="#B57FD6" stroke="#B57FD6" stroke-width="0.12" text-anchor="middle">HMS VIIRS NOAA +18%</text>
<text transform="translate(369.00,310.85) scale(1,1.1)" y="2.804" font-size="8.15" fill="#E5C494" stroke="#E5C494" stroke-width="0.12" text-anchor="middle">MODISTERRA +17%</text>
<text transform="translate(369.00,320.60) scale(1,1.1)" y="2.804" font-size="8.15" fill="#000000" stroke="#000000" stroke-width="0.12" text-anchor="middle">ENS Median +12%</text>
<text transform="translate(369.00,330.35) scale(1,1.1)" y="2.804" font-size="8.15" fill="#E27ACA" stroke="#E27ACA" stroke-width="0.12" text-anchor="middle">MODISAQUA +10%</text>
<text transform="translate(369.00,340.10) scale(1,1.1)" y="2.804" font-size="8.15" fill="#FFD92F" stroke="#FFD92F" stroke-width="0.12" text-anchor="middle">VIIRS750 +6%</text>
<text transform="translate(369.00,349.85) scale(1,1.1)" y="2.804" font-size="8.15" fill="#66C2A5" stroke="#66C2A5" stroke-width="0.12" text-anchor="middle">GOES-16 −20%</text>
<text transform="translate(369.00,359.60) scale(1,1.1)" y="2.804" font-size="8.15" fill="#66C2A5" stroke="#66C2A5" stroke-width="0.12" text-anchor="middle">GOES-16 SU −43%</text>
<text transform="translate(369.00,369.35) scale(1,1.1)" y="2.804" font-size="8.15" fill="#8DA0CB" stroke="#8DA0CB" stroke-width="0.12" text-anchor="middle">HMS GOES-16 SU −89%</text>
<text transform="translate(369.00,379.10) scale(1,1.1)" y="2.804" font-size="8.15" fill="#8DA0CB" stroke="#8DA0CB" stroke-width="0.12" text-anchor="middle">HMS GOES-16 −99%</text>
<line x1="28.3" x2="314.4" y1="497.55" y2="497.55" stroke="#EFEFEF" stroke-width="0.6"/><line x1="28.3" x2="314.4" y1="470.15" y2="470.15" stroke="#EFEFEF" stroke-width="0.6"/><line x1="28.3" x2="314.4" y1="442.75" y2="442.75" stroke="#EFEFEF" stroke-width="0.6"/><line x1="28.3" x2="314.4" y1="415.35" y2="415.35" stroke="#EFEFEF" stroke-width="0.6"/><line x1="28.3" x2="314.4" y1="511.25" y2="511.25" stroke="#E6E6E6" stroke-width="0.8"/><line x1="28.3" x2="314.4" y1="483.85" y2="483.85" stroke="#E6E6E6" stroke-width="0.8"/><line x1="28.3" x2="314.4" y1="456.45" y2="456.45" stroke="#E6E6E6" stroke-width="0.8"/><line x1="28.3" x2="314.4" y1="429.05" y2="429.05" stroke="#E6E6E6" stroke-width="0.8"/><line x1="28.3" x2="314.4" y1="401.65" y2="401.65" stroke="#E6E6E6" stroke-width="0.8"/><line x1="88.2" x2="88.2" y1="398.3" y2="516.4" stroke="#EFEFEF" stroke-width="0.6"/><line x1="149.4" x2="149.4" y1="398.3" y2="516.4" stroke="#EFEFEF" stroke-width="0.6"/><line x1="210.6" x2="210.6" y1="398.3" y2="516.4" stroke="#EFEFEF" stroke-width="0.6"/><line x1="271.8" x2="271.8" y1="398.3" y2="516.4" stroke="#EFEFEF" stroke-width="0.6"/><line x1="57.6" x2="57.6" y1="398.3" y2="516.4" stroke="#E6E6E6" stroke-width="0.8"/><line x1="118.8" x2="118.8" y1="398.3" y2="516.4" stroke="#E6E6E6" stroke-width="0.8"/><line x1="180.0" x2="180.0" y1="398.3" y2="516.4" stroke="#E6E6E6" stroke-width="0.8"/><line x1="241.2" x2="241.2" y1="398.3" y2="516.4" stroke="#E6E6E6" stroke-width="0.8"/><line x1="302.4" x2="302.4" y1="398.3" y2="516.4" stroke="#E6E6E6" stroke-width="0.8"/>
<path d="M31.30,510.70 L40.05,509.60 L48.81,508.00 L57.56,505.00 L66.32,504.00 L75.08,503.00 L83.83,494.00 L92.59,482.00 L101.34,477.00 L110.09,475.20 L118.85,473.60 L127.61,468.50 L136.36,463.60 L145.12,445.70 L153.87,441.00 L162.63,432.00 L171.38,427.80 L180.14,424.40 L188.89,422.20 L197.65,421.60 L206.40,421.20 L215.16,421.10 L311.46,421.10" fill="none" stroke="#A6D854" stroke-width="1.0" stroke-linejoin="round" stroke-linecap="butt" opacity="1"/><path d="M31.30,510.70 L57.56,509.00 L75.08,508.00 L83.83,506.70 L92.59,495.00 L101.34,486.50 L110.09,483.50 L118.85,481.10 L127.61,479.00 L136.36,477.50 L145.12,467.00 L153.87,451.20 L162.63,441.30 L171.38,435.00 L180.14,431.10 L188.89,429.50 L197.65,429.00 L206.40,428.70 L311.46,428.70" fill="none" stroke="#E42D33" stroke-width="1.0" stroke-linejoin="round" stroke-linecap="butt" opacity="1"/><path d="M31.30,510.70 L57.56,510.00 L83.83,508.00 L92.59,500.00 L101.34,497.00 L110.09,494.50 L118.85,492.00 L127.61,487.00 L136.36,483.65 L145.12,478.70 L153.87,472.50 L162.63,465.80 L171.38,453.50 L180.14,446.00 L188.89,445.00 L197.65,444.50 L206.40,444.30 L215.16,443.50 L311.46,443.50" fill="none" stroke="#B57FD6" stroke-width="1.0" stroke-linejoin="round" stroke-linecap="butt" opacity="1"/><path d="M31.30,510.70 L48.81,510.30 L57.56,510.20 L311.46,510.20" fill="none" stroke="#8DA0CB" stroke-width="1.0" stroke-linejoin="round" stroke-linecap="butt" opacity="1"/><path d="M31.30,510.70 L57.56,508.00 L83.83,505.50 L92.59,492.00 L101.34,490.00 L110.09,488.00 L118.85,486.00 L127.61,484.00 L136.36,482.00 L145.12,470.00 L153.87,455.00 L162.63,447.00 L171.38,440.50 L180.14,435.30 L188.89,433.00 L197.65,432.00 L206.40,431.70 L215.16,431.50 L311.46,431.50" fill="none" stroke="#E5C494" stroke-width="1.0" stroke-linejoin="round" stroke-linecap="butt" opacity="1"/><path d="M31.30,510.70 L57.56,507.50 L75.08,507.00 L83.83,506.00 L92.59,490.00 L101.34,484.50 L110.09,480.30 L118.85,478.00 L127.61,475.20 L136.36,472.00 L145.12,456.00 L153.87,439.50 L162.63,431.10 L171.38,416.80 L180.14,410.10 L188.89,408.10 L197.65,407.60 L206.40,407.60 L215.16,405.80 L311.46,405.80" fill="none" stroke="#E37FCB" stroke-width="1.0" stroke-linejoin="round" stroke-linecap="butt" opacity="1"/><path d="M31.30,510.70 L57.56,506.50 L75.08,505.50 L83.83,501.00 L92.59,486.20 L101.34,483.00 L110.09,481.10 L118.85,479.50 L127.61,473.60 L136.36,468.00 L145.12,452.00 L153.87,437.50 L162.63,427.00 L171.38,414.30 L180.14,406.40 L188.89,404.70 L197.65,404.20 L206.40,404.10 L215.16,403.00 L311.46,403.00" fill="none" stroke="#66C2A5" stroke-width="1.0" stroke-linejoin="round" stroke-linecap="butt" opacity="1"/><path d="M31.30,510.70 L57.56,508.00 L83.83,505.00 L92.59,489.00 L101.34,488.70 L110.09,486.00 L118.85,483.65 L127.61,482.00 L136.36,480.30 L145.12,466.00 L153.87,449.00 L162.63,440.00 L171.38,432.00 L180.14,427.80 L188.89,426.00 L197.65,425.20 L206.40,424.90 L215.16,424.50 L311.46,424.50" fill="none" stroke="#FC8D62" stroke-width="1.0" stroke-linejoin="round" stroke-linecap="butt" opacity="1"/><path d="M31.30,510.70 L48.81,507.50 L57.56,504.50 L66.32,504.00 L75.08,503.10 L83.83,503.80 L92.59,491.00 L101.34,489.50 L110.09,487.00 L118.85,485.30 L127.61,483.65 L136.36,479.50 L145.12,461.00 L153.87,441.40 L162.63,434.50 L171.38,426.00 L180.14,415.10 L188.89,414.30 L197.65,413.50 L206.40,413.00 L215.16,412.50 L311.46,412.50" fill="none" stroke="#FFD92F" stroke-width="1.0" stroke-linejoin="round" stroke-linecap="butt" opacity="1"/><path d="M31.30,510.70 L101.34,510.50 L153.87,508.00 L180.14,506.00 L206.40,503.20 L232.67,500.80 L311.46,500.80" fill="none" stroke="#8DA0CB" stroke-width="1.0" stroke-linejoin="round" stroke-linecap="butt" stroke-dasharray="3.5,2.75" opacity="1"/><path d="M31.30,510.70 L83.83,508.00 L92.59,499.60 L101.34,498.00 L110.09,495.40 L118.85,493.75 L127.61,491.20 L136.36,487.00 L145.12,479.00 L153.87,471.00 L162.63,463.60 L171.38,457.70 L180.14,454.30 L188.89,453.00 L197.65,451.80 L206.40,450.90 L215.16,449.30 L250.18,448.00 L276.44,447.90 L285.19,446.50 L311.46,446.50" fill="none" stroke="#66C2A5" stroke-width="1.0" stroke-linejoin="round" stroke-linecap="butt" stroke-dasharray="3.5,2.75" opacity="1"/><circle cx="48.80" cy="510.60" r="1.0" fill="#8F8F8F"/><circle cx="66.30" cy="506.30" r="1.0" fill="#8F8F8F"/><circle cx="75.10" cy="506.30" r="1.0" fill="#8F8F8F"/><circle cx="110.10" cy="490.70" r="1.0" fill="#8F8F8F"/><circle cx="118.80" cy="489.00" r="1.0" fill="#8F8F8F"/><circle cx="145.10" cy="475.50" r="1.0" fill="#8F8F8F"/><circle cx="153.90" cy="467.30" r="1.0" fill="#8F8F8F"/><circle cx="162.60" cy="458.60" r="1.0" fill="#8F8F8F"/><circle cx="171.40" cy="449.55" r="1.0" fill="#8F8F8F"/><circle cx="180.10" cy="447.00" r="1.0" fill="#8F8F8F"/><circle cx="188.90" cy="443.70" r="1.0" fill="#8F8F8F"/><circle cx="197.60" cy="443.70" r="1.0" fill="#8F8F8F"/><circle cx="206.40" cy="442.60" r="1.0" fill="#8F8F8F"/><circle cx="224.00" cy="442.60" r="1.0" fill="#8F8F8F"/><circle cx="241.30" cy="442.60" r="1.0" fill="#8F8F8F"/><path d="M31.30,510.70 L40.05,509.60 L48.81,508.80 L57.56,506.80 L66.32,506.00 L75.08,505.70 L83.83,504.50 L92.59,494.00 L101.34,492.20 L110.09,490.40 L118.85,489.00 L127.61,486.20 L136.36,482.30 L145.12,472.00 L153.87,459.60 L162.63,451.50 L171.38,444.40 L180.14,438.70 L188.89,437.00 L197.65,436.40 L206.40,436.20 L215.16,435.80 L223.91,435.50 L232.67,435.30 L241.42,435.30 L250.18,435.30 L258.93,435.30 L267.69,435.30 L276.44,435.30 L285.19,434.30 L293.95,434.00 L302.71,434.00 L311.46,434.00" fill="none" stroke="#000" stroke-width="1.6" stroke-linejoin="round" stroke-linecap="butt" opacity="1"/><circle cx="31.30" cy="510.70" r="1.15" fill="#000"/><circle cx="40.05" cy="509.60" r="1.15" fill="#000"/><circle cx="48.81" cy="508.80" r="1.15" fill="#000"/><circle cx="57.56" cy="506.80" r="1.15" fill="#000"/><circle cx="66.32" cy="506.00" r="1.15" fill="#000"/><circle cx="75.08" cy="505.70" r="1.15" fill="#000"/><circle cx="83.83" cy="504.50" r="1.15" fill="#000"/><circle cx="92.59" cy="494.00" r="1.15" fill="#000"/><circle cx="101.34" cy="492.20" r="1.15" fill="#000"/><circle cx="110.09" cy="490.40" r="1.15" fill="#000"/><circle cx="118.85" cy="489.00" r="1.15" fill="#000"/><circle cx="127.61" cy="486.20" r="1.15" fill="#000"/><circle cx="136.36" cy="482.30" r="1.15" fill="#000"/><circle cx="145.12" cy="472.00" r="1.15" fill="#000"/><circle cx="153.87" cy="459.60" r="1.15" fill="#000"/><circle cx="162.63" cy="451.50" r="1.15" fill="#000"/><circle cx="171.38" cy="444.40" r="1.15" fill="#000"/><circle cx="180.14" cy="438.70" r="1.15" fill="#000"/><circle cx="188.89" cy="437.00" r="1.15" fill="#000"/><circle cx="197.65" cy="436.40" r="1.15" fill="#000"/><circle cx="206.40" cy="436.20" r="1.15" fill="#000"/><circle cx="215.16" cy="435.80" r="1.15" fill="#000"/><circle cx="223.91" cy="435.50" r="1.15" fill="#000"/><circle cx="232.67" cy="435.30" r="1.15" fill="#000"/><circle cx="241.42" cy="435.30" r="1.15" fill="#000"/><circle cx="250.18" cy="435.30" r="1.15" fill="#000"/><circle cx="258.93" cy="435.30" r="1.15" fill="#000"/><circle cx="267.69" cy="435.30" r="1.15" fill="#000"/><circle cx="276.44" cy="435.30" r="1.15" fill="#000"/><circle cx="285.19" cy="434.30" r="1.15" fill="#000"/><circle cx="293.95" cy="434.00" r="1.15" fill="#000"/><circle cx="302.71" cy="434.00" r="1.15" fill="#000"/><circle cx="311.46" cy="434.00" r="1.15" fill="#000"/>
<rect x="28.3" y="398.3" width="286.10" height="118.10" fill="none" stroke="#999" stroke-width="0.9"/>
<line x1="26.1" x2="28.3" y1="511.25" y2="511.25" stroke="#333" stroke-width="0.6"/>
<text transform="translate(24.50,511.25) scale(1,1.0)" y="1.238" font-size="3.6" fill="#555" text-anchor="end">0</text>
<line x1="26.1" x2="28.3" y1="483.85" y2="483.85" stroke="#333" stroke-width="0.6"/>
<text transform="translate(24.50,483.85) scale(1,1.0)" y="1.238" font-size="3.6" fill="#555" text-anchor="end">50,000</text>
<line x1="26.1" x2="28.3" y1="456.45" y2="456.45" stroke="#333" stroke-width="0.6"/>
<text transform="translate(24.50,456.45) scale(1,1.0)" y="1.238" font-size="3.6" fill="#555" text-anchor="end">100,000</text>
<line x1="26.1" x2="28.3" y1="429.05" y2="429.05" stroke="#333" stroke-width="0.6"/>
<text transform="translate(24.50,429.05) scale(1,1.0)" y="1.238" font-size="3.6" fill="#555" text-anchor="end">150,000</text>
<line x1="26.1" x2="28.3" y1="401.65" y2="401.65" stroke="#333" stroke-width="0.6"/>
<text transform="translate(24.50,401.65) scale(1,1.0)" y="1.238" font-size="3.6" fill="#555" text-anchor="end">200,000</text>
<line x1="57.6" x2="57.6" y1="516.4" y2="518.6" stroke="#333" stroke-width="0.6"/>
<text transform="translate(57.60,521.80) scale(1,1.0)" y="1.238" font-size="3.6" fill="#666" text-anchor="middle">Jun 10</text>
<line x1="118.8" x2="118.8" y1="516.4" y2="518.6" stroke="#333" stroke-width="0.6"/>
<text transform="translate(118.80,521.80) scale(1,1.0)" y="1.238" font-size="3.6" fill="#666" text-anchor="middle">Jun 17</text>
<line x1="180.0" x2="180.0" y1="516.4" y2="518.6" stroke="#333" stroke-width="0.6"/>
<text transform="translate(180.00,521.80) scale(1,1.0)" y="1.238" font-size="3.6" fill="#666" text-anchor="middle">Jun 24</text>
<line x1="241.2" x2="241.2" y1="516.4" y2="518.6" stroke="#333" stroke-width="0.6"/>
<text transform="translate(241.20,521.80) scale(1,1.0)" y="1.238" font-size="3.6" fill="#666" text-anchor="middle">Jul 01</text>
<line x1="302.4" x2="302.4" y1="516.4" y2="518.6" stroke="#333" stroke-width="0.6"/>
<text transform="translate(302.40,521.80) scale(1,1.0)" y="1.238" font-size="3.6" fill="#666" text-anchor="middle">Jul 08</text>
<text transform="translate(6.3,457.35) rotate(-90)" y="1.72" font-size="5.0" fill="#222" text-anchor="middle">Acres</text>
<text transform="translate(31.50,403.75) scale(1,1.1)" y="2.838" font-size="8.25" fill="#000" stroke="#000" stroke-width="0.2">Woodbury Fire (2019)</text>
<text transform="translate(369.00,406.90) scale(1,1.1)" y="2.804" font-size="8.15" fill="#66C2A5" stroke="#66C2A5" stroke-width="0.12" text-anchor="middle">GOES-16 +59%</text>
<text transform="translate(369.00,416.67) scale(1,1.1)" y="2.804" font-size="8.15" fill="#E27ACA" stroke="#E27ACA" stroke-width="0.12" text-anchor="middle">MODISAQUA +55%</text>
<text transform="translate(369.00,426.44) scale(1,1.1)" y="2.804" font-size="8.15" fill="#FFD92F" stroke="#FFD92F" stroke-width="0.12" text-anchor="middle">VIIRS750 +45%</text>
<text transform="translate(369.00,436.20) scale(1,1.1)" y="2.804" font-size="8.15" fill="#A6D854" stroke="#A6D854" stroke-width="0.12" text-anchor="middle">HMS MODIS +32%</text>
<text transform="translate(369.00,445.97) scale(1,1.1)" y="2.804" font-size="8.15" fill="#FC8D62" stroke="#FC8D62" stroke-width="0.12" text-anchor="middle">VIIRS375 +28%</text>
<text transform="translate(369.00,455.74) scale(1,1.1)" y="2.804" font-size="8.15" fill="#E8242B" stroke="#E8242B" stroke-width="0.12" text-anchor="middle">HMS VIIRS SNPP +21%</text>
<text transform="translate(369.00,465.51) scale(1,1.1)" y="2.804" font-size="8.15" fill="#E5C494" stroke="#E5C494" stroke-width="0.12" text-anchor="middle">MODISTERRA +18%</text>
<text transform="translate(369.00,475.28) scale(1,1.1)" y="2.804" font-size="8.15" fill="#000000" stroke="#000000" stroke-width="0.12" text-anchor="middle">ENS Median +13%</text>
<text transform="translate(369.00,485.04) scale(1,1.1)" y="2.804" font-size="8.15" fill="#B57FD6" stroke="#B57FD6" stroke-width="0.12" text-anchor="middle">HMS VIIRS NOAA −1%</text>
<text transform="translate(369.00,494.81) scale(1,1.1)" y="2.804" font-size="8.15" fill="#66C2A5" stroke="#66C2A5" stroke-width="0.12" text-anchor="middle">GOES-16 SU −5%</text>
<text transform="translate(369.00,504.58) scale(1,1.1)" y="2.804" font-size="8.15" fill="#8DA0CB" stroke="#8DA0CB" stroke-width="0.12" text-anchor="middle">HMS GOES-16 SU −85%</text>
<text transform="translate(369.00,514.35) scale(1,1.1)" y="2.804" font-size="8.15" fill="#8DA0CB" stroke="#8DA0CB" stroke-width="0.12" text-anchor="middle">HMS GOES-16 −99%</text>
<rect x="1.4000000000000001" y="530.30" width="9" height="9" fill="#FAFAFA"/>
<line x1="2.2" x2="9.8" y1="534.90" y2="534.90" stroke="#A6D854" stroke-width="1.1"/>
<text transform="translate(13.70,534.90) scale(1,1.1)" y="1.548" font-size="4.5" fill="#111" stroke="#111" stroke-width="0.1">HMS MODIS</text>
<rect x="1.4000000000000001" y="539.40" width="9" height="9" fill="#FAFAFA"/>
<line x1="2.2" x2="9.8" y1="544.00" y2="544.00" stroke="#E42D33" stroke-width="1.1"/>
<text transform="translate(13.70,544.00) scale(1,1.1)" y="1.548" font-size="4.5" fill="#111" stroke="#111" stroke-width="0.1">HMS VIIRS SUOMI</text>
<rect x="55.0" y="530.30" width="9" height="9" fill="#FAFAFA"/>
<line x1="55.8" x2="63.4" y1="534.90" y2="534.90" stroke="#B57FD6" stroke-width="1.1"/>
<text transform="translate(66.40,534.90) scale(1,1.1)" y="1.548" font-size="4.5" fill="#111" stroke="#111" stroke-width="0.1">HMS VIIRS NOAA</text>
<rect x="55.0" y="539.40" width="9" height="9" fill="#FAFAFA"/>
<line x1="55.8" x2="63.4" y1="544.00" y2="544.00" stroke="#8DA0CB" stroke-width="1.1"/>
<text transform="translate(66.40,544.00) scale(1,1.1)" y="1.548" font-size="4.5" fill="#111" stroke="#111" stroke-width="0.1">HMS GOES-16</text>
<rect x="105.60000000000001" y="530.30" width="9" height="9" fill="#FAFAFA"/>
<line x1="106.4" x2="114.0" y1="534.90" y2="534.90" stroke="#8DA0CB" stroke-width="1.1" stroke-dasharray="3.5,1.7"/>
<text transform="translate(116.90,534.90) scale(1,1.1)" y="1.548" font-size="4.5" fill="#111" stroke="#111" stroke-width="0.1">HMS GOES-16 SU</text>
<rect x="105.60000000000001" y="539.40" width="9" height="9" fill="#FAFAFA"/>
<line x1="106.4" x2="114.0" y1="544.00" y2="544.00" stroke="#E5C494" stroke-width="1.1"/>
<text transform="translate(116.90,544.00) scale(1,1.1)" y="1.548" font-size="4.5" fill="#111" stroke="#111" stroke-width="0.1">MODISTERRA</text>
<rect x="157.79999999999998" y="530.30" width="9" height="9" fill="#FAFAFA"/>
<line x1="158.6" x2="166.2" y1="534.90" y2="534.90" stroke="#E37FCB" stroke-width="1.1"/>
<text transform="translate(169.60,534.90) scale(1,1.1)" y="1.548" font-size="4.5" fill="#111" stroke="#111" stroke-width="0.1">MODISAQUA</text>
<rect x="157.79999999999998" y="539.40" width="9" height="9" fill="#FAFAFA"/>
<line x1="158.6" x2="166.2" y1="544.00" y2="544.00" stroke="#66C2A5" stroke-width="1.1"/>
<text transform="translate(169.60,544.00) scale(1,1.1)" y="1.548" font-size="4.5" fill="#111" stroke="#111" stroke-width="0.1">GOES-16</text>
<rect x="198.79999999999998" y="530.30" width="9" height="9" fill="#FAFAFA"/>
<line x1="199.6" x2="207.2" y1="534.90" y2="534.90" stroke="#66C2A5" stroke-width="1.1" stroke-dasharray="3.5,1.7"/>
<text transform="translate(210.00,534.90) scale(1,1.1)" y="1.548" font-size="4.5" fill="#111" stroke="#111" stroke-width="0.1">GOES-16 SU</text>
<rect x="198.79999999999998" y="539.40" width="9" height="9" fill="#FAFAFA"/>
<line x1="199.6" x2="207.2" y1="544.00" y2="544.00" stroke="#FC8D62" stroke-width="1.1"/>
<text transform="translate(210.00,544.00) scale(1,1.1)" y="1.548" font-size="4.5" fill="#111" stroke="#111" stroke-width="0.1">VIIRS 375</text>
<rect x="240.7" y="530.30" width="9" height="9" fill="#FAFAFA"/>
<line x1="241.5" x2="249.1" y1="534.90" y2="534.90" stroke="#FFD92F" stroke-width="1.1"/>
<text transform="translate(252.00,534.90) scale(1,1.1)" y="1.548" font-size="4.5" fill="#111" stroke="#111" stroke-width="0.1">VIIRS 750</text>
<rect x="240.7" y="539.40" width="9" height="9" fill="#FAFAFA"/>
<line x1="241.5" x2="249.1" y1="544.00" y2="544.00" stroke="#000000" stroke-width="1.6"/>
<text transform="translate(252.00,544.00) scale(1,1.1)" y="1.548" font-size="4.5" fill="#111" stroke="#111" stroke-width="0.1">Ensemble: Median</text>
<rect x="291" y="530.3" width="9" height="9" fill="#F5F5F5"/>
<circle cx="295.8" cy="535" r="0.9" fill="#999"/>
<text transform="translate(302.80,534.90) scale(1,1.1)" y="1.720" font-size="5.0" fill="#111" stroke="#111" stroke-width="0.1">Geomac</text>
</svg></body></html>
